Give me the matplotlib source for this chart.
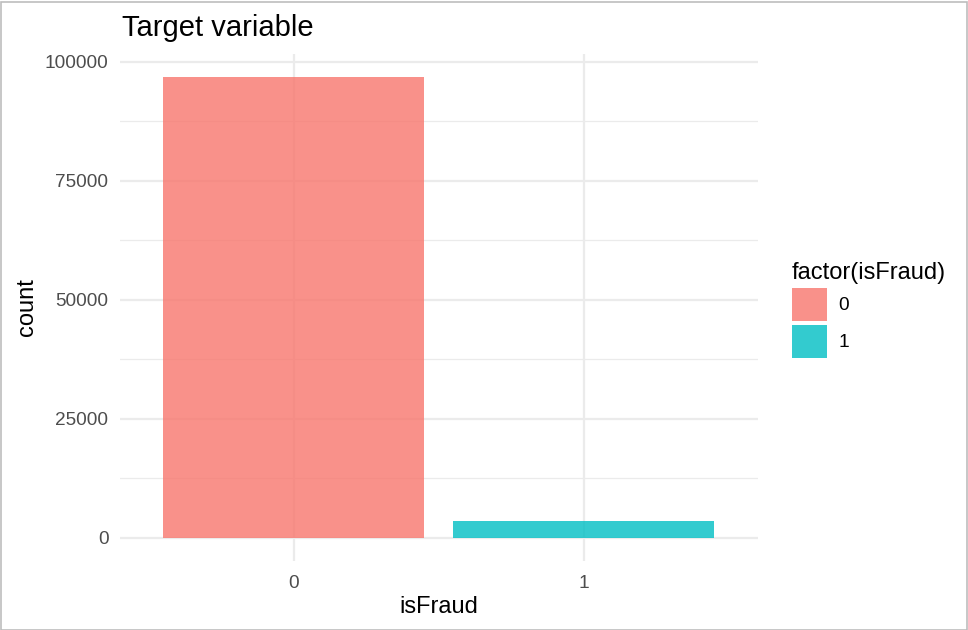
import matplotlib
matplotlib.use("Agg")
import matplotlib.pyplot as plt
from matplotlib.patches import Patch, Rectangle
import numpy as np

# data
categories = ["0", "1"]
counts = [96800, 3500]
fill_colors = ["#F8766D", "#00BFC4"]
y_ticks = [0, 25000, 50000, 75000, 100000]
y_minor = [12500, 37500, 62500, 87500]

plt.rcParams['font.family'] = ['Liberation Sans', 'DejaVu Sans']

W, H = 968, 630
fig = plt.figure(figsize=(W / 100, H / 100), dpi=100)
fig.patch.set_facecolor("white")

# panel placement in pixels (left, top, right, bottom)
pl, pt, pr, pb = 119.5, 54, 757.5, 561
ax = fig.add_axes([pl / W, (H - pb) / H, (pr - pl) / W, (pb - pt) / H])

x = np.arange(len(categories))
ax.bar(x, counts, width=0.9, color=fill_colors, alpha=0.8, zorder=2)

ymax = max(counts)
ax.set_ylim(-0.05 * ymax, 1.05 * ymax)
ax.set_xlim(-0.6, len(categories) - 0.4)

grid_col = "#EBEBEB"
ax.set_yticks(y_ticks)
ax.set_yticks(y_minor, minor=True)
ax.set_xticks(x)
ax.set_xticklabels(categories)
ax.grid(True, which="major", color=grid_col, linewidth=1.6, zorder=0)
ax.grid(True, which="minor", axis="y", color=grid_col, linewidth=0.9, zorder=0)
ax.set_axisbelow(True)
for s in ax.spines.values():
    s.set_visible(False)
ax.tick_params(which="both", length=0)
ax.tick_params(axis="y", pad=8, labelsize=13.7, labelcolor="#4D4D4D")
ax.tick_params(axis="x", pad=10, labelsize=13.7, labelcolor="#4D4D4D")

ax.set_xlabel("isFraud", fontsize=17, labelpad=3)
ax.set_ylabel("count", fontsize=17, labelpad=5)
fig.text(122 / W, 1 - 28 / H, "Target variable", fontsize=21, va="center", ha="left")

handles = [Patch(facecolor=c, alpha=0.8, edgecolor="none") for c in fill_colors]
leg = fig.legend(handles, categories, title="factor(isFraud)", loc="upper left",
                 bbox_to_anchor=(792 / W, 1 - 262 / H), frameon=False,
                 fontsize=13.7, title_fontsize=17, handlelength=1.85,
                 handleheight=2.3, labelspacing=0.2, handletextpad=0.6,
                 borderpad=0, borderaxespad=0, alignment="left")

# light frame around the screenshot
fig.patches.append(Rectangle((0.5 / W, 0.5 / H), (W - 1.5) / W, (H - 2) / H,
                             transform=fig.transFigure, fill=False,
                             edgecolor="#BDBDBD", linewidth=1.2))

fig.savefig("out.png", dpi=100)
